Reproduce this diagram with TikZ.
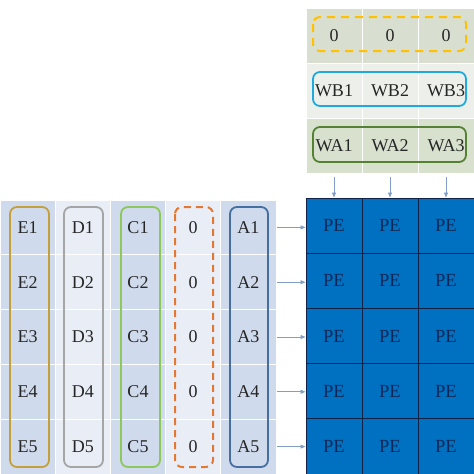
\documentclass[tikz,border=0pt]{standalone}
\usepackage{fontspec}
\setmainfont{Liberation Serif}
\usetikzlibrary{arrows.meta}

\definecolor{coldark}{RGB}{207,218,236}
\definecolor{collight}{RGB}{232,237,246}
\definecolor{rowzero}{RGB}{216,223,208}
\definecolor{rowwb}{RGB}{237,240,234}
\definecolor{rowwa}{RGB}{216,225,205}
\definecolor{peblue}{RGB}{0,112,192}
\definecolor{penavy}{RGB}{18,34,70}
\definecolor{petext}{RGB}{18,40,88}
\definecolor{feedcol}{RGB}{130,158,196}
\definecolor{egold}{RGB}{196,160,60}
\definecolor{dgray}{RGB}{165,165,165}
\definecolor{cgreen}{RGB}{140,200,90}
\definecolor{zorange}{RGB}{226,120,50}
\definecolor{ablue}{RGB}{70,110,160}
\definecolor{zyellow}{RGB}{255,192,0}
\definecolor{wbcyan}{RGB}{30,170,220}
\definecolor{wagreen}{RGB}{84,130,53}

\tikzset{
  cell/.style={draw=white, line width=1pt, minimum width=55.2pt, minimum height=54.8pt,
    inner sep=0pt, text=black!85, font=\fontsize{18}{18}\selectfont},
  wcell/.style={draw=white, line width=1pt, minimum width=56pt, minimum height=55pt,
    inner sep=0pt, text=black!85, font=\fontsize{18}{18}\selectfont},
  pecell/.style={draw=penavy, line width=1pt, fill=peblue, minimum width=56pt,
    minimum height=55.2pt, inner sep=0pt, text=petext, font=\fontsize{18.5}{18.5}\selectfont},
  feed/.style={draw=feedcol, line width=0.7pt, -{Triangle[length=5pt,width=4pt]}},
  band/.style={line width=1.8pt, rounded corners=7pt},
  dashband/.style={line width=2pt, rounded corners=7pt, dash pattern=on 7pt off 5pt},
}

\begin{document}
\begin{tikzpicture}[x=1pt,y=-1pt]
  \useasboundingbox (0,0) rectangle (474,474);

  % input columns
  \foreach \nm/\lab/\bg/\cx in {e/E/coldark/27.6, d/D/collight/82.8, c/C/coldark/138, a/A/coldark/248.4}
    \foreach \i in {1,...,5}
      \node[cell, fill=\bg] (\nm\i) at (\cx, 172.6+54.8*\i) {\lab\i};
  \foreach \i in {1,...,5}
    \node[cell, fill=collight] (z\i) at (193.2, 172.6+54.8*\i) {0};

  \draw[band, egold] (10,207) rectangle (49,467);
  \draw[band, dgray] (64,207) rectangle (103,467);
  \draw[band, cgreen] (121,207) rectangle (160,467);
  \draw[dashband, zorange] (175,207) rectangle (213,467);
  \draw[band, ablue] (230,207) rectangle (268,467);

  % weight rows
  \foreach \j/\cx in {1/334, 2/390, 3/446} {
    \node[wcell, fill=rowzero] (w\j) at (\cx, 36) {0};
    \node[wcell, fill=rowwb] (wb\j) at (\cx, 90.5) {WB\j};
    \node[wcell, fill=rowwa] (wa\j) at (\cx, 145.5) {WA\j};
  }
  \draw[dashband, zyellow, dash pattern=on 8pt off 6pt] (313,17) rectangle (466,51);
  \draw[band, wbcyan] (313,72) rectangle (466,106);
  \draw[band, wagreen] (313,127) rectangle (466,162);

  % PE array
  \foreach \i in {1,...,5}
    \foreach \j/\cx in {1/334, 2/390, 3/446}
      \node[pecell] (pe\i\j) at (\cx, 170.4+55.2*\i) {PE};

  \foreach \i in {1,...,5}
    \draw[feed] (a\i.east) -- (a\i.east -| pe\i1.west);
  \foreach \j in {1,2,3}
    \draw[feed, shorten <=3pt] (wa\j.south) -- (pe1\j.north);
\end{tikzpicture}
\end{document}
